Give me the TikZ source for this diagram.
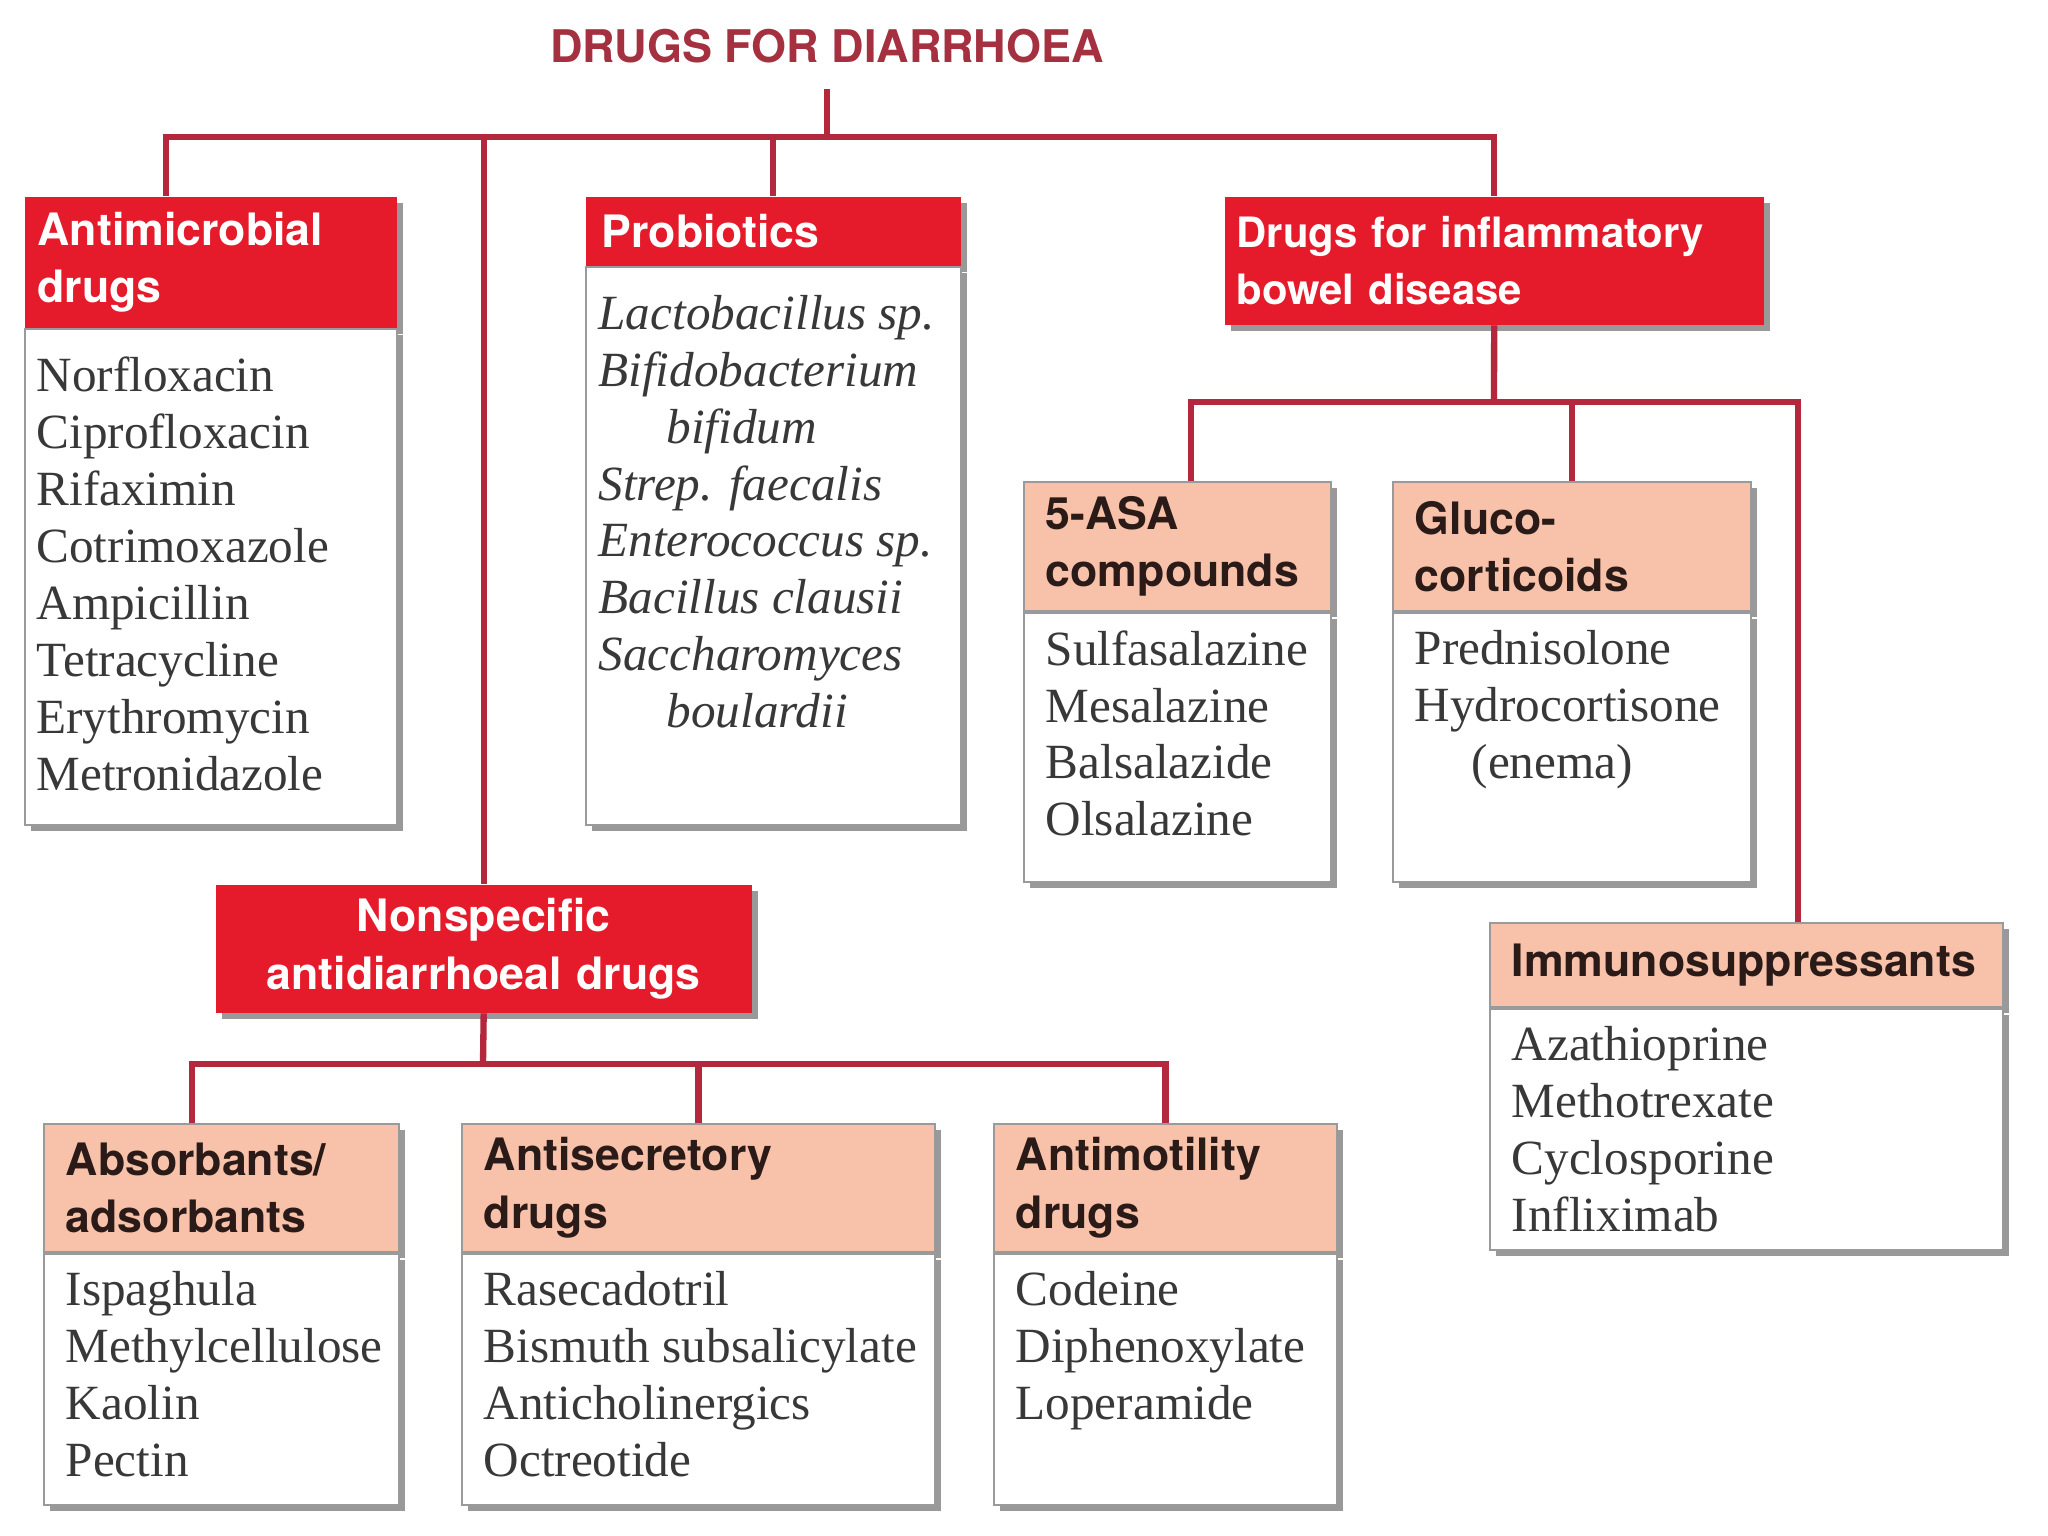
\documentclass[tikz,border=0pt]{standalone}
\usepackage{fontspec}
\setmainfont{Liberation Serif}
\setsansfont{TeX Gyre Heros}
\usepackage{xcolor}
\usepackage{tikz}
\usetikzlibrary{positioning,shadows}
\definecolor{linkred}{HTML}{B3283D}
\definecolor{headred}{HTML}{E51B2B}
\definecolor{salmon}{HTML}{F8C1A9}
\definecolor{titlered}{HTML}{A53040}
\definecolor{headink}{HTML}{2B1B18}
\definecolor{inkgray}{HTML}{383838}
\definecolor{edgegray}{HTML}{9A9A9A}
\newcommand{\hfont}{\fontsize{12.7}{16.3}\selectfont\sffamily\bfseries}
\newcommand{\lfont}{\fontsize{14}{16.2}\selectfont}
\newcommand{\subind}{\hspace*{0.68cm}}

\begin{document}
\begin{tikzpicture}[
  link/.style={draw=linkred, line width=1.8pt},
  shade box/.style={drop shadow={shadow xshift=0.06cm, shadow yshift=-0.06cm, fill=black!40, opacity=1}},
  titletext/.style={font=\fontsize{12.8}{15}\selectfont\sffamily\bfseries, text=titlered},
  redhead/.style={shade box, fill=headred, text=white, font=\hfont, align=left, anchor=north west, inner ysep=0pt, inner xsep=0.22cm},
  palehead/.style={redhead, fill=salmon, text=headink, draw=edgegray, line width=0.5pt},
  listbox/.style={shade box, fill=white, draw=edgegray, line width=0.5pt, inner sep=0pt},
  items/.style={font=\lfont, text=inkgray, align=left, inner sep=0pt},
]
  \fill[white] (0,0) rectangle (20.48,-15.36);
  \useasboundingbox (0,0) rectangle (20.48,-15.36);

  \node[titletext] (title) at (8.27,-0.46) {DRUGS FOR DIARRHOEA};

  \node[redhead, inner xsep=0.13cm, text width=3.46cm, minimum height=1.31cm] (amic) at (0.24,-1.96) {Antimicrobial\\drugs};
  \node[listbox, minimum width=3.72cm, minimum height=4.96cm, below=0pt of amic] (amicL) {};
  \node[items, below right=0.28cm and 0.12cm of amicL.north west] {Norfloxacin\\Ciprofloxacin\\Rifaximin\\Cotrimoxazole\\Ampicillin\\Tetracycline\\Erythromycin\\Metronidazole};

  \node[redhead, inner xsep=0.16cm, text width=3.43cm, minimum height=0.69cm] (pro) at (5.85,-1.96) {Probiotics};
  \node[listbox, minimum width=3.75cm, minimum height=5.58cm, below=0pt of pro] (proL) {};
  \node[items, font=\lfont\itshape, below right=0.28cm and 0.13cm of proL.north west] {Lactobacillus sp.\\Bifidobacterium\\\subind bifidum\\Strep. faecalis\\Enterococcus sp.\\Bacillus clausii\\Saccharomyces\\\subind boulardii};

  \node[redhead, font=\fontsize{11.9}{16.3}\selectfont\sffamily\bfseries, inner xsep=0.12cm, text width=5.15cm, minimum height=1.28cm] (ibd) at (12.24,-1.96) {Drugs for inflammatory\\bowel disease};

  \node[palehead, text width=2.63cm, minimum height=1.29cm] (asa) at (10.23,-4.81) {5-ASA\\compounds};
  \node[listbox, minimum width=3.07cm, minimum height=2.69cm, below=0pt of asa] (asaL) {};
  \node[items, below right=0.18cm and 0.22cm of asaL.north west] {Sulfasalazine\\Mesalazine\\Balsalazide\\Olsalazine};

  \node[palehead, text width=3.14cm, minimum height=1.29cm] (glc) at (13.92,-4.81) {Gluco-\\corticoids};
  \node[listbox, minimum width=3.58cm, minimum height=2.69cm, below=0pt of glc] (glcL) {};
  \node[items, below right=0.18cm and 0.22cm of glcL.north west] {Prednisolone\\Hydrocortisone\\\hspace*{0.57cm}(enema)};

  \node[palehead, text width=4.69cm, minimum height=0.84cm] (imm) at (14.89,-9.22) {Immunosuppressants};
  \node[listbox, minimum width=5.13cm, minimum height=2.41cm, below=0pt of imm] (immL) {};
  \node[items, below right=0.18cm and 0.22cm of immL.north west] {Azathioprine\\Methotrexate\\Cyclosporine\\Infliximab};

  \node[redhead, align=center, text width=4.92cm, minimum height=1.28cm] (nsp) at (2.15,-8.84) {Nonspecific\\antidiarrhoeal drugs};

  \node[palehead, text width=3.11cm, minimum height=1.28cm] (abs) at (0.43,-11.23) {Absorbants/\\adsorbants};
  \node[listbox, minimum width=3.55cm, minimum height=2.51cm, below=0pt of abs] (absL) {};
  \node[items, below right=0.18cm and 0.22cm of absL.north west] {Ispaghula\\Methylcellulose\\Kaolin\\Pectin};

  \node[palehead, text width=4.29cm, minimum height=1.28cm] (asec) at (4.61,-11.23) {Antisecretory\\drugs};
  \node[listbox, minimum width=4.73cm, minimum height=2.51cm, below=0pt of asec] (asecL) {};
  \node[items, below right=0.18cm and 0.22cm of asecL.north west] {Rasecadotril\\Bismuth subsalicylate\\Anticholinergics\\Octreotide};

  \node[palehead, text width=2.99cm, minimum height=1.28cm] (amo) at (9.93,-11.23) {Antimotility\\drugs};
  \node[listbox, minimum width=3.43cm, minimum height=2.51cm, below=0pt of amo] (amoL) {};
  \node[items, below right=0.18cm and 0.22cm of amoL.north west] {Codeine\\Diphenoxylate\\Loperamide};

  \coordinate (bus1) at (8.27,-1.37);
  \coordinate (amicD) at (1.66,-1.37);
  \draw[link, shorten <=0.14cm] (title.south) -- (bus1);
  \draw[link] (amic.north -| amicD) |- (bus1) -| (ibd.north);
  \draw[link] (bus1 -| nsp.north) -- (nsp.north);
  \draw[link] (bus1 -| pro.north) -- (pro.north);

  \coordinate (bus2) at (14.94,-4.02);
  \coordinate (asaD) at (11.91,-4.02);
  \coordinate (immD) at (17.98,-4.02);
  \draw[link] (ibd.south) -- (bus2);
  \draw[link] (asa.north -| asaD) |- (immD) -- (immD |- imm.north);
  \draw[link] (bus2 -| glc.north) -- (glc.north);

  \coordinate (bus3) at (4.83,-10.64);
  \coordinate (absD) at (1.92,-10.64);
  \draw[link] (nsp.south) -- (bus3);
  \draw[link] (abs.north -| absD) |- (bus3) -| (amo.north);
  \draw[link] (bus3 -| asec.north) -- (asec.north);
\end{tikzpicture}
\end{document}
